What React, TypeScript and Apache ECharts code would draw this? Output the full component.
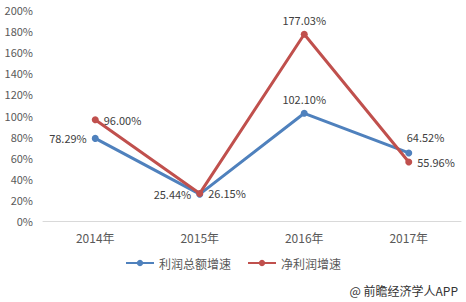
import React, { useEffect, useRef } from "react";
import * as echarts from "echarts";

const categories = ["2014年", "2015年", "2016年", "2017年"];
const profitTotal = [78.29, 25.44, 102.1, 64.52];
const netProfit = [96.0, 26.15, 177.03, 55.96];
const seriesNames = ["利润总额增速", "净利润增速"];

const blueLabels: any[] = [
  { position: "left" },
  { position: "left" },
  { position: "top" },
  { position: "top", align: "left", offset: [-2, -2] },
];
const redLabels: any[] = [
  { position: "right" },
  { position: "right" },
  { position: "top" },
  { position: "right" },
];

export default function App() {
  const ref = useRef<HTMLDivElement>(null);
  useEffect(() => {
    const chart = echarts.init(ref.current!, null, { renderer: "svg" });
    const font = "'Microsoft YaHei', 'Noto Sans CJK SC', sans-serif";
    chart.setOption({
      animation: false,
      textStyle: { fontFamily: font },
      grid: { left: 43, right: 5, top: 10, bottom: 81 },
      legend: {
        data: seriesNames,
        bottom: 28,
        left: "center",
        itemWidth: 28,
        itemHeight: 8,
        itemGap: 16,
        textStyle: { fontSize: 12, color: "#595959" },
      },
      graphic: [
        {
          type: "text",
          right: 8,
          bottom: 6,
          style: { text: "@ 前瞻经济学人APP", fontSize: 12, fill: "#333", fontFamily: font },
        },
      ],
      xAxis: {
        type: "category",
        data: categories,
        boundaryGap: true,
        axisLine: { lineStyle: { color: "#d9d9d9" } },
        axisTick: { show: false },
        axisLabel: { color: "#595959", fontSize: 12, margin: 10 },
      },
      yAxis: {
        type: "value",
        min: 0,
        max: 200,
        interval: 20,
        axisLine: { show: false },
        axisTick: { show: false },
        splitLine: { show: false },
        axisLabel: { color: "#595959", fontSize: 11, margin: 10, formatter: "{value}%" },
      },
      series: [
        {
          name: seriesNames[0],
          type: "line",
          data: profitTotal.map((v, i) => ({ value: v, label: blueLabels[i] })),
          symbol: "circle",
          symbolSize: 7,
          lineStyle: { width: 3, color: "#4F81BD" },
          itemStyle: { color: "#4F81BD" },
          label: { show: true, color: "#404040", fontSize: 11, formatter: (p: any) => p.value.toFixed(2) + "%" },
          z: 2,
        },
        {
          name: seriesNames[1],
          type: "line",
          data: netProfit.map((v, i) => ({ value: v, label: redLabels[i] })),
          symbol: "circle",
          symbolSize: 7,
          lineStyle: { width: 3, color: "#C0504D" },
          itemStyle: { color: "#C0504D" },
          label: { show: true, color: "#404040", fontSize: 11, formatter: (p: any) => p.value.toFixed(2) + "%" },
          z: 3,
        },
      ],
    });
    return () => chart.dispose();
  }, []);
  return <div ref={ref} style={{ width: 466, height: 302, position: "absolute", left: 0, top: 0, background: "#fff" }} />;
}
